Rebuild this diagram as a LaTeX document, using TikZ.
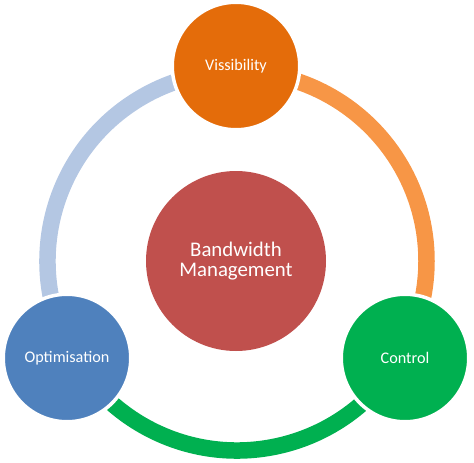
\documentclass[tikz,border=0pt]{standalone}
\usepackage{fontspec}
\setmainfont{Carlito}
\usepackage{xcolor}
\usepackage{tikz}
\usetikzlibrary{positioning}

\definecolor{hubred}{HTML}{C0504D}
\definecolor{visorange}{HTML}{E46C0A}
\definecolor{optblue}{HTML}{4F81BD}
\definecolor{ctlgreen}{HTML}{00B050}
\definecolor{arcblue}{HTML}{B4C7E3}
\definecolor{arcorange}{HTML}{F79646}
\definecolor{arcgreen}{HTML}{00B050}

\begin{document}
\begin{tikzpicture}[
		x=1pt, y=-1pt,
		core/.style={circle, fill=hubred, text=white, minimum size=180pt, inner sep=0pt, align=center, font=\fontsize{20.8}{20}\selectfont},
		part/.style={circle, draw=white, line width=3.5pt, minimum size=127.5pt, inner sep=0pt, text=white, font=\fontsize{16.2}{18}\selectfont},
		ring/.style={line width=16.5pt}
		]
		\useasboundingbox (0,0) rectangle (474,463);
		\coordinate (hub) at (237,261);
		% ring segments behind the circles
		\draw[ring, arcblue] ([shift={(150:189.5)}]hub) arc[start angle=150, end angle=270, radius=189.5];
		\draw[ring, arcgreen] ([shift={(30:189.5)}]hub) arc[start angle=30, end angle=150, radius=189.5];
		\draw[ring, arcorange] ([shift={(-90:189.5)}]hub) arc[start angle=-90, end angle=30, radius=189.5];
		% circles
		\node[core] (bwm) at (236,261) {Bandwidth\\Management};
		\node[part, fill=visorange] (vis) at (236,66) {Vissibility};
		\node[part, fill=optblue] (opt) at (67,358) {Optimisation};
		\node[part, fill=ctlgreen] (ctl) at (405,358) {Control};
	\end{tikzpicture}
\end{document}
